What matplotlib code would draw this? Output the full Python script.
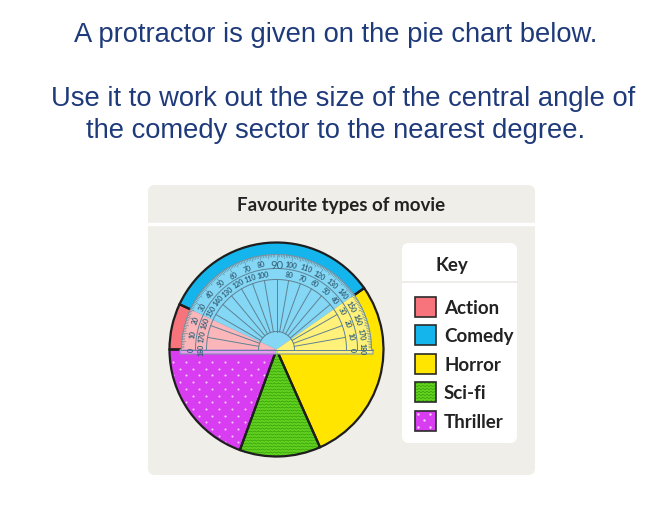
import matplotlib
matplotlib.use("Agg")
import matplotlib.pyplot as plt
import numpy as np
from matplotlib.patches import FancyBboxPatch, Rectangle, PathPatch
from matplotlib.path import Path

# data (sector angles in degrees)
categories = ["Action", "Comedy", "Horror", "Sci-fi", "Thriller"]
angles = [25, 120, 101, 44, 70]
colors = ["#f8747c", "#14b4ec", "#ffe500", "#62d21e", "#d93df2"]

question = ["A protractor is given on the pie chart below.",
            "Use it to work out the size of the central angle of",
            "the comedy sector to the nearest degree."]
chart_title = "Favourite types of movie"
key_title = "Key"
scale_labels = list(range(0, 181, 10))

navy = "#1f3a7a"
narrow = ["Lato", "DejaVu Sans"]
prot_col = "#5f8294"
lab_col = "#36627a"
zig_col = "#3aa510"
dot_col = "#f6d2fa"

W, H = 653, 514
fig = plt.figure(figsize=(W / 100, H / 100), dpi=100)
bg = fig.add_axes([0, 0, 1, 1])
bg.set_xlim(0, W)
bg.set_ylim(H, 0)
bg.axis("off")

# question text
for txt, x, y in zip(question, [336, 343, 336], [42, 106, 138.5]):
    bg.text(x, y, txt, ha="center", va="baseline", fontsize=19.7,
            color=navy, family=["Liberation Sans", "DejaVu Sans"])

# panel
bg.add_patch(FancyBboxPatch((148, 185), 387, 290, boxstyle="round,pad=0,rounding_size=7",
                            fc="#efeee9", ec="none"))
bg.plot([148, 535], [224, 224], color="white", lw=2.5)
bg.text(341.5, 211, chart_title, ha="center", va="baseline", fontsize=13.5,
        fontweight="bold", color="#222222", family=narrow)

# key box
bg.add_patch(FancyBboxPatch((402, 243), 115, 200, boxstyle="round,pad=0,rounding_size=7",
                            fc="white", ec="none"))
bg.plot([402, 517], [282, 282], color="#ebeae6", lw=1.2)
bg.text(452, 270.5, key_title, ha="center", va="baseline", fontsize=13.5,
        fontweight="bold", color="#222222", family=narrow)


def zigzag(axis, clip, x0, x1, y0, y1, step=3.0):
    xs = np.arange(x0, x1, 2.0)
    off = 0.6 * (-1) ** np.arange(len(xs))
    for yy in np.arange(y0, y1, step):
        ln, = axis.plot(xs, yy + off, color=zig_col, lw=0.6, zorder=2)
        ln.set_clip_path(clip)


def dots(axis, clip, x0, x1, y0, y1, dx=13.0, dy=6.7, size=2.2):
    pts = []
    for j, yy in enumerate(np.arange(y0, y1, dy)):
        for xx in np.arange(x0 + (j % 2) * dx / 2, x1, dx):
            pts.append((xx, yy))
    pts = np.array(pts)
    sc = axis.scatter(pts[:, 0], pts[:, 1], s=size, color=dot_col, lw=0, zorder=2)
    sc.set_clip_path(clip)


y0 = 306.5
for i, (name, c) in enumerate(zip(categories, colors)):
    yc = y0 + i * 28.5
    sw = Rectangle((415, yc - 10), 21, 20, fc=c, ec="none", zorder=1)
    bg.add_patch(sw)
    if name == "Sci-fi":
        zigzag(bg, sw, 413, 440, yc - 12, yc + 12)
    if name == "Thriller":
        dots(bg, sw, 418, 440, yc - 7, yc + 11, dx=12, dy=6.5, size=3)
    bg.add_patch(Rectangle((415, yc - 10), 21, 20, fc="none", ec="#2a2a2a", lw=1.2, zorder=3))
    bg.text(444, yc + 7.3, name, ha="left", va="baseline", fontsize=13.5,
            fontweight="bold", color="#222222", family=narrow)

# pie
cx, cy, S = 276.5, 349.5, 260
ax = fig.add_axes([(cx - S / 2) / W, (H - cy - S / 2) / H, S / W, S / H])
R = 107
wedges, _ = ax.pie(angles, colors=colors, startangle=180, counterclock=False, radius=R,
                   wedgeprops=dict(edgecolor="none", linewidth=0))
for w in wedges:
    w.set_zorder(1)
zigzag(ax, wedges[3], -70, 70, -112, 4)
dots(ax, wedges[4], -110, 5, -113, -9.5)
outl, _ = ax.pie(angles, colors=["none"] * 5, startangle=180, counterclock=False, radius=R,
                 wedgeprops=dict(edgecolor="#1e1e1e", linewidth=1.6))
for w in outl:
    w.set_zorder(3)

# protractor
rp = 95
th = np.linspace(0, np.pi, 181)
verts = [(96.5, -4.5), (96.5, 0)] + list(zip(rp * np.cos(th), rp * np.sin(th))) + \
        [(-96.5, 0), (-96.5, -4.5), (96.5, -4.5)]
codes = [Path.MOVETO] + [Path.LINETO] * (len(verts) - 2) + [Path.CLOSEPOLY]
prot_path = Path(verts, codes)
overlay = PathPatch(prot_path, fc=(1, 1, 1, 0.48), ec="#7f98a5", lw=0.8, zorder=5)

under, _ = ax.pie(angles, colors=colors, startangle=180, counterclock=False, radius=R,
                  wedgeprops=dict(edgecolor="none", linewidth=0))
ax.add_patch(overlay)
for w in under:
    w.set_zorder(4)
    w.set_clip_on(True)
    w.set_clip_path(overlay)

for r in [18, 70, 81]:
    t = np.linspace(0, np.pi, 120)
    ax.plot(r * np.cos(t), r * np.sin(t), color=prot_col, lw=0.7, zorder=6)
ax.plot([-96, 96], [0, 0], color=prot_col, lw=0.7, zorder=6)
for a in range(10, 171, 10):
    t = np.radians(a)
    ax.plot([18 * np.cos(t), 70 * np.cos(t)], [18 * np.sin(t), 70 * np.sin(t)],
            color=prot_col, lw=0.7, zorder=6)
for a in range(0, 181):
    t = np.radians(a)
    r0 = 89.5 if a % 10 == 0 else (91 if a % 5 == 0 else 92.5)
    ax.plot([r0 * np.cos(t), rp * np.cos(t)], [r0 * np.sin(t), rp * np.sin(t)],
            color=prot_col, lw=0.4, zorder=6)

for v in scale_labels:
    if v == 90:
        continue
    for theta, r in [(180 - v, 85.5), (v, 75.5)]:
        t = np.radians(theta)
        ax.text(r * np.cos(t), r * np.sin(t), str(v), rotation=theta - 90,
                ha="center", va="center", rotation_mode="anchor", fontsize=5,
                fontweight="bold", color=lab_col, family=narrow, zorder=7)
ax.text(0, 84, "90", ha="center", va="center", fontsize=8, color=lab_col,
        family=narrow, zorder=7)

ax.set_xlim(-S / 2, S / 2)
ax.set_ylim(-S / 2, S / 2)
ax.set_aspect("equal")
ax.axis("off")

fig.savefig("out.png", dpi=100)
